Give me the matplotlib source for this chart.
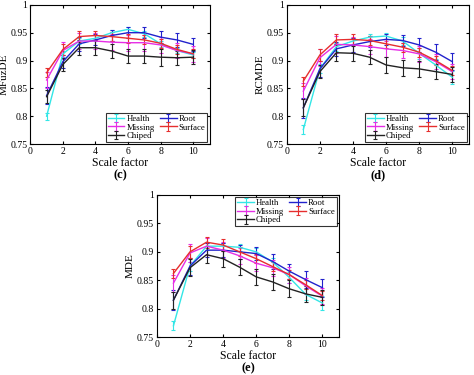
import matplotlib
matplotlib.use("Agg")
from matplotlib import pyplot as plt

plt.rcParams['font.family'] = ['Liberation Serif', 'DejaVu Serif']
plt.rcParams['font.size'] = 8

scale = [1, 2, 3, 4, 5, 6, 7, 8, 9, 10]
names = ["Health", "Root", "Missing", "Surface", "Chiped"]
colors = {"Health": "#33e6e6", "Root": "#2222cc", "Missing": "#e62ee6",
          "Surface": "#e62e2e", "Chiped": "#222222"}

# (c) MFuzDE
mfuzde = {
    "Health":  [0.800, 0.912, 0.935, 0.940, 0.950, 0.956, 0.948, 0.930, 0.918, 0.910],
    "Root":    [0.837, 0.898, 0.930, 0.937, 0.945, 0.950, 0.950, 0.942, 0.937, 0.929],
    "Missing": [0.865, 0.918, 0.935, 0.935, 0.933, 0.932, 0.932, 0.928, 0.918, 0.912],
    "Surface": [0.878, 0.920, 0.943, 0.945, 0.943, 0.940, 0.937, 0.931, 0.920, 0.912],
    "Chiped":  [0.835, 0.893, 0.923, 0.923, 0.917, 0.908, 0.908, 0.906, 0.905, 0.906],
}
mfuzde_err = {
    "Health":  [0.006, 0.006, 0.005, 0.005, 0.005, 0.005, 0.005, 0.005, 0.005, 0.006],
    "Root":    [0.015, 0.012, 0.012, 0.010, 0.010, 0.010, 0.010, 0.011, 0.012, 0.012],
    "Missing": [0.015, 0.015, 0.015, 0.014, 0.014, 0.014, 0.014, 0.014, 0.014, 0.014],
    "Surface": [0.008, 0.010, 0.010, 0.008, 0.008, 0.008, 0.008, 0.008, 0.008, 0.008],
    "Chiped":  [0.012, 0.012, 0.013, 0.013, 0.012, 0.013, 0.012, 0.015, 0.013, 0.013],
}

# (d) RCMDE
rcmde = {
    "Health":  [0.776, 0.885, 0.925, 0.935, 0.942, 0.944, 0.935, 0.913, 0.892, 0.870],
    "Root":    [0.815, 0.885, 0.921, 0.928, 0.934, 0.938, 0.936, 0.928, 0.915, 0.898],
    "Missing": [0.845, 0.905, 0.929, 0.928, 0.925, 0.921, 0.918, 0.912, 0.898, 0.880],
    "Surface": [0.863, 0.910, 0.937, 0.938, 0.936, 0.930, 0.924, 0.915, 0.900, 0.882],
    "Chiped":  [0.815, 0.880, 0.914, 0.913, 0.906, 0.892, 0.887, 0.885, 0.880, 0.875],
}
rcmde_err = {
    "Health":  [0.008, 0.008, 0.007, 0.006, 0.006, 0.006, 0.008, 0.010, 0.010, 0.012],
    "Root":    [0.018, 0.015, 0.012, 0.012, 0.010, 0.010, 0.010, 0.012, 0.014, 0.015],
    "Missing": [0.015, 0.015, 0.015, 0.014, 0.014, 0.014, 0.014, 0.014, 0.014, 0.014],
    "Surface": [0.008, 0.010, 0.010, 0.010, 0.008, 0.008, 0.008, 0.008, 0.008, 0.008],
    "Chiped":  [0.015, 0.012, 0.015, 0.013, 0.013, 0.014, 0.014, 0.015, 0.014, 0.013],
}

# (e) MDE
mde = {
    "Health":  [0.770, 0.875, 0.910, 0.910, 0.908, 0.900, 0.882, 0.855, 0.825, 0.810],
    "Root":    [0.815, 0.875, 0.903, 0.903, 0.900, 0.897, 0.883, 0.866, 0.851, 0.837],
    "Missing": [0.845, 0.898, 0.910, 0.903, 0.893, 0.880, 0.872, 0.860, 0.840, 0.822],
    "Surface": [0.862, 0.900, 0.917, 0.912, 0.900, 0.888, 0.874, 0.860, 0.842, 0.823],
    "Chiped":  [0.815, 0.872, 0.895, 0.888, 0.873, 0.856, 0.847, 0.835, 0.826, 0.820],
}
mde_err = {
    "Health":  [0.008, 0.008, 0.006, 0.006, 0.006, 0.006, 0.008, 0.010, 0.010, 0.012],
    "Root":    [0.018, 0.015, 0.012, 0.012, 0.012, 0.012, 0.013, 0.013, 0.015, 0.016],
    "Missing": [0.015, 0.015, 0.015, 0.014, 0.014, 0.014, 0.014, 0.014, 0.014, 0.014],
    "Surface": [0.008, 0.010, 0.010, 0.010, 0.008, 0.008, 0.008, 0.008, 0.008, 0.008],
    "Chiped":  [0.015, 0.015, 0.015, 0.014, 0.014, 0.014, 0.014, 0.015, 0.014, 0.013],
}

yticks = [0.75, 0.8, 0.85, 0.9, 0.95, 1]
ytick_labels = ["0.75", "0.8", "0.85", "0.9", "0.95", "1"]

fig = plt.figure(figsize=(4.74, 3.75), dpi=100)

panels = [
    ([0.064, 0.616, 0.378, 0.371], mfuzde, mfuzde_err, "MFuzDE", "(c)", "lower right"),
    ([0.605, 0.616, 0.384, 0.371], rcmde, rcmde_err, "RCMDE", "(d)", "lower right"),
    ([0.331, 0.101, 0.384, 0.379], mde, mde_err, "MDE", "(e)", "upper right"),
]

for rect, data, err, ylabel, tag, loc in panels:
    ax = fig.add_axes(rect)
    handles = {}
    for name in names:
        h = ax.errorbar(scale, data[name], yerr=err[name], color=colors[name],
                        lw=1.0, elinewidth=0.8, capsize=1.5, capthick=0.8, label=name)
        handles[name] = h
    ax.set_xlim(0, 11)
    ax.set_ylim(0.75, 1)
    ax.set_xticks([0, 2, 4, 6, 8, 10])
    ax.set_yticks(yticks)
    ax.set_yticklabels(ytick_labels)
    ax.tick_params(direction='in', length=2.5, labelsize=7, pad=2,
                   top=True, right=True)
    ax.set_xlabel("Scale factor", fontsize=8.5, labelpad=1)
    ax.set_ylabel(ylabel, fontsize=8)
    ax.yaxis.set_label_coords(-0.122, 0.5)
    order = ["Health", "Missing", "Chiped", "Root", "Surface"]
    leg = ax.legend([handles[n] for n in order], order, loc=loc, ncol=2,
                    fontsize=6.3, frameon=True, fancybox=False, edgecolor='black',
                    borderpad=0.2, labelspacing=0.05, handlelength=1.9,
                    handletextpad=0.25, columnspacing=0.6, borderaxespad=0.25)
    leg.get_frame().set_linewidth(0.8)
    cx = rect[0] + rect[2] / 2
    fig.text(cx, rect[1] - 0.083, tag, ha='center', va='center',
             fontsize=9, fontweight='bold')

fig.savefig("out.png", dpi=100)
